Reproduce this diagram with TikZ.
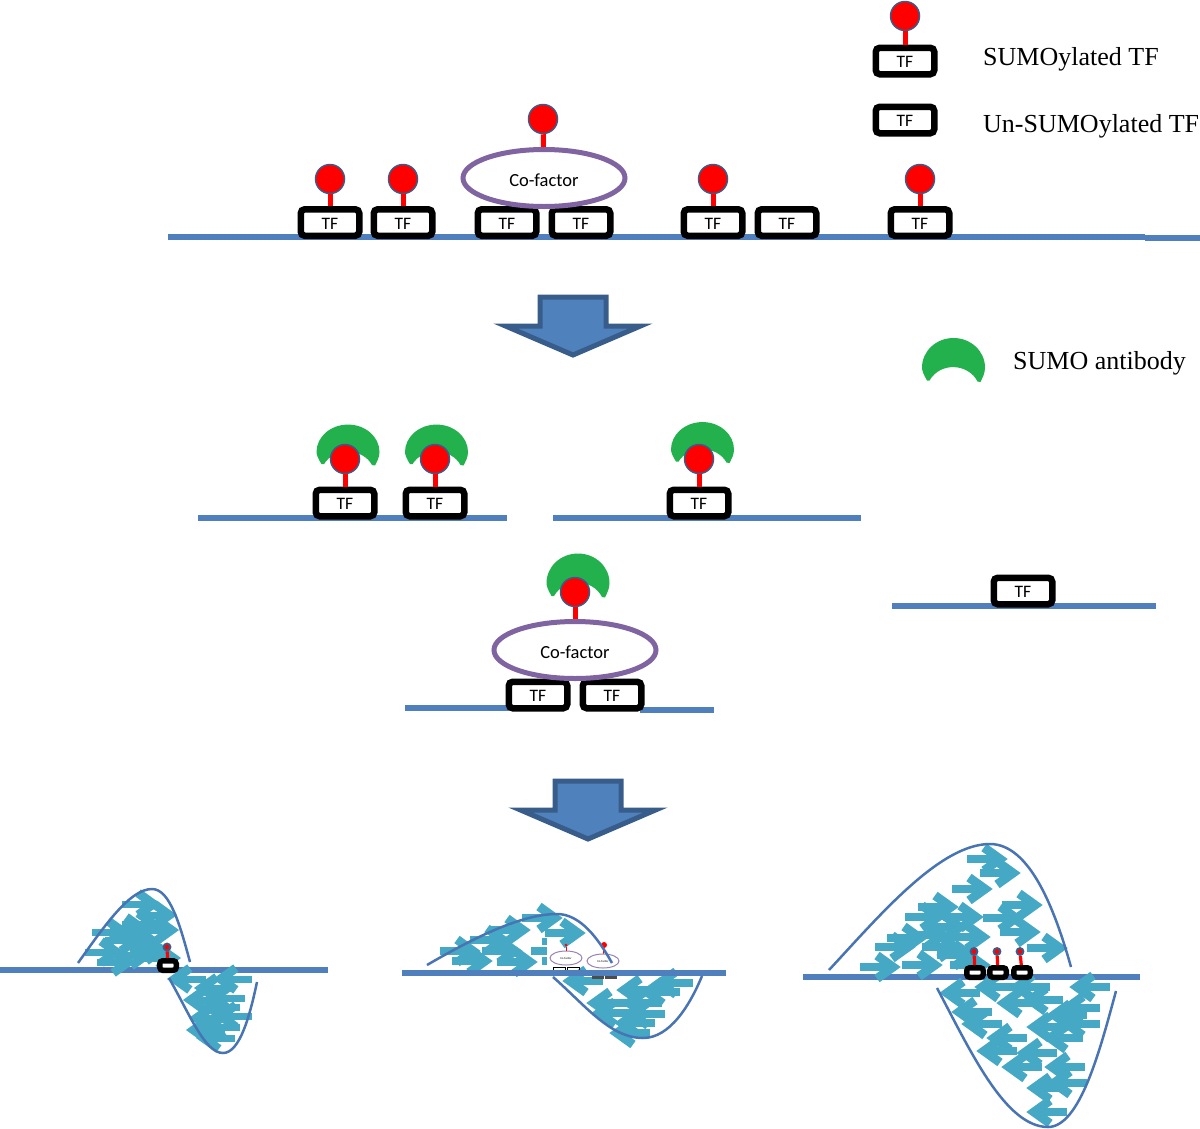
\documentclass[tikz,border=0pt]{standalone}
\usepackage{fontspec}
\setmainfont{Liberation Serif}
\newfontfamily\calibri{Carlito}
\usetikzlibrary{calc,shapes.geometric}
\definecolor{dnablue}{HTML}{4F7FBD}
\definecolor{curveblue}{HTML}{4874B4}
\definecolor{chevblue}{HTML}{45A9C6}
\definecolor{bigfill}{HTML}{4F81BD}
\definecolor{bigline}{HTML}{385D8A}
\definecolor{abgreen}{HTML}{22B14C}
\definecolor{cofpurple}{HTML}{8064A2}
\newcommand{\armw}{9pt}
\tikzset{
  tf/.style={draw=black,fill=white,line width=6.5pt,rounded corners=4pt,minimum width=58.5pt,minimum height=26.5pt,inner sep=0pt,text height=13pt,text depth=0pt,font=\calibri\fontsize{17.5}{19}\selectfont},
  head/.style={circle,draw=bigline,fill=red,line width=1.5pt,minimum size=29pt,inner sep=0pt},
  stalk/.style={draw=red,line width=5pt},
  cof/.style={ellipse,draw=cofpurple,fill=white,line width=5pt,minimum width=162pt,minimum height=57pt,inner sep=0pt,text height=16.5pt,text depth=0pt,font=\calibri\fontsize{18.5}{20}\selectfont},
  dna/.style={draw=dnablue,line width=6pt},
  wave/.style={draw=curveblue,line width=2.5pt},
  minitf/.style={draw=black,fill=white,line width=5.5pt,rounded corners=3pt,minimum width=16.5pt,minimum height=9.5pt,inner sep=0pt},
  minihead/.style={circle,draw=bigline,fill=red,line width=1.8pt,minimum size=7pt,inner sep=0pt},
  ministalk/.style={draw=red,line width=3.2pt},
  minicof/.style={ellipse,draw=cofpurple!80,fill=white,line width=1pt,minimum width=32pt,minimum height=14pt,inner sep=0pt,font=\calibri\fontsize{3}{4}\selectfont},
  legendtext/.style={anchor=west,inner sep=0pt,font=\fontsize{26}{28}\selectfont},
  pics/antibody/.style={code={
    \fill[abgreen] (-31.5,0) arc (180:360:31.5 and 29.5) .. controls (31.5,6) and (29,10) .. (27,14.5) -- (24,14) .. controls (15,-4) and (-13,-6) .. (-24,13) -- (-26.5,13) .. controls (-30,7) and (-31.5,3) .. cycle;
  }},
  pics/chev/.style={code={
    \draw[draw=chevblue] (0,0) -- (31,0);
    \draw[draw=chevblue,line width=\armw] (17,-11.5) -- (33,0) -- (17,11.5);
  }},
  pics/bigarrow/.style={code={
    \draw[draw=bigline,fill=bigfill,line width=5pt,miter limit=12] (-33,-29) -- (33,-29) -- (33,0) -- (67.5,0) -- (0,29) -- (-67.5,0) -- (-33,0) -- cycle;
  }}
}
\begin{document}
\begin{tikzpicture}[x=1pt,y=-1pt]
\useasboundingbox (0,0) rectangle (1200,1128);

\node[head] (hl) at (905,16) {};
\node[tf] (tl) at (905,61) {TF};
\draw[stalk] (hl) -- (tl);
\node[tf] (tm) at (905,120) {TF};
\node[legendtext] (sumotf) at (983,59.5) {SUMOylated TF};
\node[legendtext] (unsumotf) at (983,126.5) {Un-SUMOylated TF};
\pic at (953.5,367.5) {antibody};
\node[legendtext] (sumoab) at (1013,363.5) {SUMO antibody};

\draw[dna] (168,237) -- (1145,237);
\draw[dna] (1145,238) -- (1200,238);
\foreach \n/\x in {a/330,b/403,c/713,d/920} {
  \node[head] (h\n) at (\x,179) {};
  \node[tf] (t\n) at (\x,222.5) {TF};
  \draw[stalk] (h\n) -- (t\n);
}
\node[tf] (te) at (507,222.5) {TF};
\node[tf] (tf) at (581,222.5) {TF};
\node[tf] (tg) at (787,222.5) {TF};
\node[head] (hf) at (543,119) {};
\node[cof] (ca) at (544,178) {Co-factor};
\draw[stalk] (hf) -- (ca);

\pic at (573,326) {bigarrow};

\draw[dna] (198,518) -- (507,518);
\draw[dna] (553,518) -- (861,518);
\foreach \n/\x/\g/\v in {i/345/348/452,j/435/436.5/452,k/699/702.5/449.5} {
  \pic[yscale=.93] at (\g,\v) {antibody};
  \node[head] (h\n) at (\x,459) {};
  \node[tf] (t\n) at (\x,503) {TF};
  \draw[stalk] (h\n) -- (t\n);
}

\draw[dna] (405,708) -- (540,708);
\draw[dna] (640,710) -- (714,710);
\node[tf] (tp) at (538,695) {TF};
\node[tf] (tq) at (612,695) {TF};
\pic at (578,583) {antibody};
\node[head] (hp) at (575,592) {};
\node[cof] (cp) at (575,650) {Co-factor};
\draw[stalk] (hp) -- (cp);

\draw[dna] (892,606) -- (1156,606);
\node[tf] (tr) at (1023,591) {TF};

\pic at (588,810) {bigarrow};

\draw[dna] (0,970) -- (328,970);
\begin{scope}[line width=7pt]
\foreach \x/\y in {122/904,138/915,122/924,140/930,92/932,110/928,123/942,105/940,85/952,97/962,115/955,142/958,130/950}
  \pic[scale=.95] at (\x,\y) {chev};
\foreach \x/\y in {206/979,252/979,233/988,245/998,222/1000,240/1007,252/1016,228/1018,240/1027,235/1038,225/1030}
  \pic[xscale=-.95,yscale=.95] at (\x,\y) {chev};
\end{scope}
\draw[wave] (78,963) .. controls (105,925) and (130,889) .. (152,889) .. controls (170,889) and (180,925) .. (190,962);
\draw[wave] (169,978) .. controls (190,1015) and (205,1053) .. (223,1053) .. controls (240,1053) and (250,1015) .. (257,982);
\node[minihead] (hs) at (167,947) {};
\node[minitf] (ts) at (168,965.5) {};
\draw[ministalk] (hs) -- (ts);

\begin{scope}[line width=7.5pt]
\foreach \x/\y in {440/951,452/961,482/951,497/962,470/940,490/930,522/918,545/933}
  \pic at (\x,\y) {chev};
\foreach \x/\y in {603/981,693/983,657/990,680/992,627/1003,662/1003,665/1014,632/1013,655/1023,650/1033}
  \pic[xscale=-1] at (\x,\y) {chev};
\draw[chevblue] (531,951) -- (547,951);
\draw[chevblue] (542,941.5) -- (547,941.5);
\draw[chevblue] (542,961) -- (547,961);
\end{scope}
\node[minicof] (cu) at (566,958) {Co-factor};
\node[minicof] (cv) at (603,961) {Co-factor};
\node[circle,fill=red,minimum size=3pt,inner sep=0pt] (hu) at (566,945) {};
\node[circle,fill=red,minimum size=6pt,inner sep=0pt] (hv) at (604,945) {};
\draw[red,line width=1pt] (hu) -- (cu);
\draw[red,line width=1pt] (hv) -- (cv);
\draw[black,line width=1pt] (553,970) -- (553,967) -- (565,967) -- (565,970);
\draw[black,line width=1pt] (567,970) -- (567,967) -- (579,967) -- (579,970);
\fill[black!70] (592,976) rectangle (604,979);
\fill[black!70] (605,976) rectangle (617,979);
\draw[dna] (402,972.5) -- (726,972.5);
\draw[wave] (427,965) .. controls (470,940) and (520,914) .. (557,914) .. controls (580,914) and (598,938) .. (612,963);
\draw[wave] (553,977) .. controls (585,1005) and (610,1038) .. (643,1038) .. controls (670,1038) and (690,1005) .. (702,976);

\draw[dna] (803,977) -- (1140,977);
\begin{scope}[line width=8pt]
\foreach \x/\y in {967/859,980/873,952/889,1002/905,983/918,1000/932,1027/948,918/907,905/917,943/917,927/927,950/937,910/935,922/947,875/947,887/938,937/955,902/965,860/967,950/965}
  \pic at (\x,\y) {chev};
\foreach \x/\y in {1110/987,1015/987,980/993,992/1012,1002/1024,1050/987,1063/1000,1100/1008,1100/1024,1037/1003,1087/1015,1083/1038,1067/1027,1027/1038,1017/1051,1057/1053,1042/1067,1085/1067,1087/1083,1067/1088,1067/1112}
  \pic[xscale=-1] at (\x,\y) {chev};
\end{scope}
\draw[wave] (829,970) .. controls (880,915) and (940,844) .. (990,844) .. controls (1030,844) and (1055,910) .. (1071,967);
\draw[wave] (937,988) .. controls (970,1050) and (1005,1127) .. (1048,1127) .. controls (1080,1127) and (1100,1050) .. (1116,991);
\foreach \n/\x/\hx in {x/975/974,y/998/997,z/1022/1020} {
  \node[minihead] (h\n) at (\hx,951.5) {};
  \node[minitf] (t\n) at (\x,972.5) {};
  \draw[ministalk] (h\n) -- (t\n);
}
\end{tikzpicture}
\end{document}
